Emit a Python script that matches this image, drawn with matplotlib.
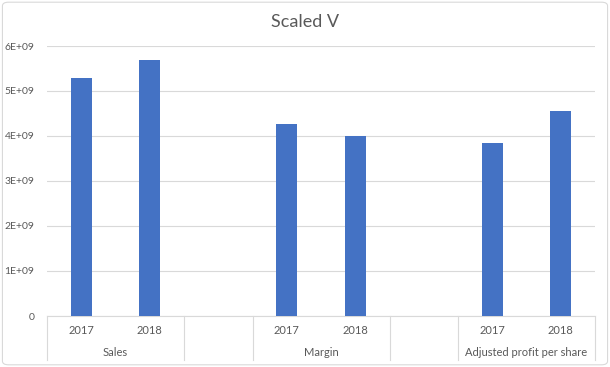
import numpy as np
import matplotlib.pyplot as plt
from matplotlib.patches import FancyBboxPatch
from matplotlib.ticker import FuncFormatter

plt.rcParams['font.family'] = ['Lato', 'DejaVu Sans']

# data (blank slots between groups, like the Excel chart)
years = ["2017", "2018", "", "2017", "2018", "", "2017", "2018"]
values = [5.30e9, 5.69e9, np.nan, 4.27e9, 4.00e9, np.nan, 3.85e9, 4.56e9]
groups = ["Sales", "Margin", "Adjusted profit per share"]
group_slots = [(0, 1), (3, 4), (6, 7)]
separators = [-0.5, 1.5, 2.5, 4.5, 5.5, 7.5]
yticks = [0, 1e9, 2e9, 3e9, 4e9, 5e9, 6e9]

grey = "#595959"
grid = "#d9d9d9"

fig = plt.figure(figsize=(6.1, 3.67), dpi=100)
ax = fig.add_axes([47 / 610, 1 - 316 / 367, 548 / 610, 270 / 367])

x = np.arange(len(years))
ax.bar(x, values, width=0.31, color="#4472C4", zorder=3)

ax.set_xlim(-0.5, 7.5)
ax.set_ylim(0, 6e9)
ax.set_yticks(yticks)
ax.yaxis.set_major_formatter(FuncFormatter(lambda v, p: "0" if v == 0 else "%dE+09" % round(v / 1e9)))
ax.tick_params(axis="y", length=0, labelsize=7.5, labelcolor=grey, pad=9)
ax.set_xticks([])
ax.grid(axis="y", color=grid, linewidth=0.8, zorder=0)
for s in ["top", "right", "left"]:
    ax.spines[s].set_visible(False)
ax.spines["bottom"].set_color(grid)

# multi-level category axis
tr = ax.get_xaxis_transform()
for sx in separators:
    ax.plot([sx, sx], [0, -44 / 270], color=grid, linewidth=0.8, transform=tr, clip_on=False)
for i, y in enumerate(years):
    if y:
        ax.text(i, -14 / 270, y, transform=tr, ha="center", va="center", fontsize=8, color=grey)
for g, (a, b) in zip(groups, group_slots):
    ax.text((a + b) / 2, -36 / 270, g, transform=tr, ha="center", va="center", fontsize=8, color=grey)

fig.text(0.5, 1 - 22 / 367, "Scaled V", ha="center", va="center", fontsize=13, color=grey)

fig.patches.append(FancyBboxPatch((0.004, 0.006), 0.992, 0.988, boxstyle="round,pad=0,rounding_size=0.01",
                                  transform=fig.transFigure, facecolor="none", edgecolor=grid, linewidth=0.8))

fig.savefig("out.png", dpi=100)
